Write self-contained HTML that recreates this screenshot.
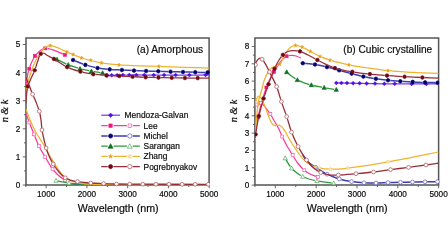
<!DOCTYPE html>
<html><head><meta charset="utf-8"><title>n &amp; k</title>
<style>
html,body{margin:0;padding:0;background:#fff;}
body{width:448px;height:252px;overflow:hidden;}
svg{display:block}
text{font-family:"Liberation Sans",Arial,sans-serif;fill:#0a0a0a;stroke:#0a0a0a;stroke-width:0.18px;}
.tk{font-size:8.2px;}
.lg{font-size:8.4px;}
.ti{font-size:10.15px;}
.xl{font-size:10.7px;}
.yl{font-family:"Liberation Serif","Times New Roman",serif;font-style:italic;font-size:10.2px;stroke:#111;stroke-width:0.25px;}
</style></head><body>
<svg width="448" height="252" viewBox="0 0 448 252">
<defs>
<mask id="k0" maskUnits="userSpaceOnUse" x="0" y="0" width="448" height="252"><rect width="448" height="252" fill="#fff"/><g fill="#000"><circle cx="29.2" cy="68.8" r="2.1"/><circle cx="35.0" cy="56.0" r="2.1"/><circle cx="45.3" cy="48.4" r="2.1"/><circle cx="65.0" cy="54.9" r="2.1"/></g></mask>
<mask id="k1" maskUnits="userSpaceOnUse" x="0" y="0" width="448" height="252"><rect width="448" height="252" fill="#fff"/><g fill="#000"><circle cx="29.3" cy="122.6" r="2.1"/><circle cx="34.0" cy="134.3" r="2.1"/><circle cx="38.9" cy="145.9" r="2.1"/><circle cx="45.3" cy="157.2" r="2.1"/><circle cx="52.6" cy="169.0" r="2.1"/><circle cx="65.0" cy="180.3" r="2.1"/></g></mask>
<mask id="k2" maskUnits="userSpaceOnUse" x="0" y="0" width="448" height="252"><rect width="448" height="252" fill="#fff"/><g fill="#000"><circle cx="73.1" cy="60.0" r="2.35"/><circle cx="85.4" cy="64.9" r="2.35"/><circle cx="97.6" cy="68.1" r="2.35"/><circle cx="109.7" cy="69.4" r="2.35"/><circle cx="121.9" cy="70.0" r="2.35"/><circle cx="134.0" cy="70.6" r="2.35"/><circle cx="146.1" cy="71.0" r="2.35"/><circle cx="158.3" cy="71.3" r="2.35"/><circle cx="170.6" cy="71.7" r="2.35"/><circle cx="183.0" cy="72.0" r="2.35"/><circle cx="195.3" cy="72.2" r="2.35"/><circle cx="207.7" cy="72.4" r="2.35"/></g></mask>
<mask id="k3" maskUnits="userSpaceOnUse" x="0" y="0" width="448" height="252"><rect width="448" height="252" fill="#fff"/><g fill="#000"><circle cx="57.0" cy="59.4" r="2.2"/><circle cx="68.2" cy="64.7" r="2.2"/><circle cx="80.0" cy="68.7" r="2.2"/><circle cx="91.4" cy="71.2" r="2.2"/><circle cx="102.6" cy="72.9" r="2.2"/></g></mask>
<mask id="k4" maskUnits="userSpaceOnUse" x="0" y="0" width="448" height="252"><rect width="448" height="252" fill="#fff"/><g fill="#000"><circle cx="56.0" cy="180.6" r="2.2"/><circle cx="69.0" cy="183.0" r="2.2"/></g></mask>
<mask id="k5" maskUnits="userSpaceOnUse" x="0" y="0" width="448" height="252"><rect width="448" height="252" fill="#fff"/><g fill="#000"><circle cx="50.2" cy="45.6" r="1.7"/><circle cx="66.8" cy="51.9" r="1.7"/><circle cx="73.1" cy="54.5" r="1.7"/><circle cx="81.5" cy="57.9" r="1.7"/><circle cx="90.8" cy="60.3" r="1.7"/><circle cx="101.5" cy="62.9" r="1.7"/><circle cx="119.0" cy="64.9" r="1.7"/><circle cx="158.9" cy="66.4" r="1.7"/></g></mask>
<mask id="k6" maskUnits="userSpaceOnUse" x="0" y="0" width="448" height="252"><rect width="448" height="252" fill="#fff"/><g fill="#000"><circle cx="27.9" cy="86.4" r="2.35"/><circle cx="34.7" cy="70.3" r="2.35"/><circle cx="40.8" cy="53.8" r="2.35"/><circle cx="53.9" cy="58.9" r="2.35"/><circle cx="67.1" cy="67.1" r="2.35"/><circle cx="80.4" cy="71.6" r="2.35"/><circle cx="93.3" cy="74.2" r="2.35"/><circle cx="106.4" cy="75.4" r="2.35"/><circle cx="119.3" cy="76.0" r="2.35"/><circle cx="132.6" cy="76.7" r="2.35"/><circle cx="145.7" cy="77.3" r="2.35"/><circle cx="158.5" cy="77.6" r="2.35"/><circle cx="171.7" cy="77.8" r="2.35"/><circle cx="184.9" cy="78.0" r="2.35"/><circle cx="197.7" cy="78.1" r="2.35"/></g></mask>
<mask id="k7" maskUnits="userSpaceOnUse" x="0" y="0" width="448" height="252"><rect width="448" height="252" fill="#fff"/><g fill="#000"><circle cx="32.6" cy="94.2" r="2.35"/><circle cx="39.3" cy="111.3" r="2.35"/><circle cx="42.0" cy="130.0" r="2.35"/><circle cx="46.1" cy="148.0" r="2.35"/><circle cx="53.2" cy="164.0" r="2.35"/><circle cx="65.2" cy="177.8" r="2.35"/><circle cx="77.5" cy="181.6" r="2.35"/><circle cx="90.8" cy="183.0" r="2.35"/><circle cx="103.6" cy="183.6" r="2.35"/><circle cx="116.5" cy="184.0" r="2.35"/><circle cx="129.7" cy="184.1" r="2.35"/><circle cx="142.8" cy="184.2" r="2.35"/><circle cx="155.9" cy="184.2" r="2.35"/><circle cx="169.0" cy="184.2" r="2.35"/><circle cx="182.1" cy="184.3" r="2.35"/><circle cx="195.2" cy="184.3" r="2.35"/><circle cx="208.3" cy="184.3" r="2.35"/></g></mask>
<mask id="k8" maskUnits="userSpaceOnUse" x="0" y="0" width="448" height="252"><rect width="448" height="252" fill="#fff"/><g fill="#000"><circle cx="258.0" cy="117.4" r="2.1"/><circle cx="266.4" cy="87.4" r="2.1"/><circle cx="273.9" cy="72.0" r="2.1"/><circle cx="286.7" cy="56.3" r="2.1"/></g></mask>
<mask id="k9" maskUnits="userSpaceOnUse" x="0" y="0" width="448" height="252"><rect width="448" height="252" fill="#fff"/><g fill="#000"><circle cx="256.9" cy="104.6" r="2.1"/><circle cx="261.0" cy="103.0" r="2.1"/><circle cx="270.3" cy="114.0" r="2.1"/><circle cx="282.2" cy="136.5" r="2.1"/><circle cx="292.6" cy="155.0" r="2.1"/><circle cx="304.3" cy="170.2" r="2.1"/><circle cx="317.9" cy="176.9" r="2.1"/></g></mask>
<mask id="k10" maskUnits="userSpaceOnUse" x="0" y="0" width="448" height="252"><rect width="448" height="252" fill="#fff"/><g fill="#000"><circle cx="302.8" cy="63.2" r="2.35"/><circle cx="315.0" cy="64.5" r="2.35"/><circle cx="327.0" cy="67.1" r="2.35"/><circle cx="339.2" cy="70.3" r="2.35"/><circle cx="351.6" cy="73.6" r="2.35"/><circle cx="363.4" cy="76.6" r="2.35"/><circle cx="375.9" cy="78.8" r="2.35"/><circle cx="388.0" cy="80.3" r="2.35"/><circle cx="400.3" cy="81.3" r="2.35"/><circle cx="412.7" cy="81.9" r="2.35"/><circle cx="425.1" cy="82.4" r="2.35"/><circle cx="437.5" cy="82.7" r="2.35"/></g></mask>
<mask id="k11" maskUnits="userSpaceOnUse" x="0" y="0" width="448" height="252"><rect width="448" height="252" fill="#fff"/><g fill="#000"><circle cx="315.7" cy="167.3" r="2.35"/><circle cx="327.1" cy="174.2" r="2.35"/><circle cx="339.3" cy="179.0" r="2.35"/><circle cx="351.5" cy="181.6" r="2.35"/><circle cx="364.0" cy="182.8" r="2.35"/><circle cx="376.0" cy="183.0" r="2.35"/><circle cx="388.0" cy="182.6" r="2.35"/><circle cx="400.5" cy="182.3" r="2.35"/><circle cx="412.5" cy="182.0" r="2.35"/><circle cx="425.0" cy="181.8" r="2.35"/><circle cx="437.5" cy="181.7" r="2.35"/></g></mask>
<mask id="k12" maskUnits="userSpaceOnUse" x="0" y="0" width="448" height="252"><rect width="448" height="252" fill="#fff"/><g fill="#000"><circle cx="286.7" cy="72.0" r="2.2"/><circle cx="297.4" cy="79.9" r="2.2"/><circle cx="311.4" cy="85.0" r="2.2"/><circle cx="324.2" cy="87.6" r="2.2"/><circle cx="336.3" cy="89.6" r="2.2"/></g></mask>
<mask id="k13" maskUnits="userSpaceOnUse" x="0" y="0" width="448" height="252"><rect width="448" height="252" fill="#fff"/><g fill="#000"><circle cx="285.2" cy="158.1" r="2.2"/><circle cx="291.6" cy="168.2" r="2.2"/><circle cx="302.7" cy="176.5" r="2.2"/><circle cx="316.9" cy="180.9" r="2.2"/><circle cx="333.7" cy="183.1" r="2.2"/></g></mask>
<mask id="k14" maskUnits="userSpaceOnUse" x="0" y="0" width="448" height="252"><rect width="448" height="252" fill="#fff"/><g fill="#000"><circle cx="279.7" cy="64.2" r="1.7"/><circle cx="295.5" cy="45.4" r="1.7"/><circle cx="302.1" cy="47.1" r="1.7"/><circle cx="310.3" cy="51.4" r="1.7"/><circle cx="319.9" cy="56.4" r="1.7"/><circle cx="330.0" cy="60.2" r="1.7"/><circle cx="348.9" cy="64.9" r="1.7"/><circle cx="388.0" cy="70.7" r="1.7"/></g></mask>
<mask id="k15" maskUnits="userSpaceOnUse" x="0" y="0" width="448" height="252"><rect width="448" height="252" fill="#fff"/><g fill="#000"><circle cx="319.5" cy="168.1" r="1.7"/><circle cx="330.4" cy="169.2" r="1.7"/><circle cx="348.2" cy="168.1" r="1.7"/><circle cx="388.0" cy="161.8" r="1.7"/></g></mask>
<mask id="k16" maskUnits="userSpaceOnUse" x="0" y="0" width="448" height="252"><rect width="448" height="252" fill="#fff"/><g fill="#000"><circle cx="255.6" cy="134.4" r="2.35"/><circle cx="258.9" cy="116.1" r="2.35"/><circle cx="263.6" cy="98.5" r="2.35"/><circle cx="268.5" cy="84.2" r="2.35"/><circle cx="274.5" cy="68.8" r="2.35"/><circle cx="282.9" cy="54.9" r="2.35"/><circle cx="300.0" cy="51.4" r="2.35"/><circle cx="317.4" cy="60.0" r="2.35"/><circle cx="334.9" cy="68.1" r="2.35"/><circle cx="352.3" cy="71.8" r="2.35"/><circle cx="369.9" cy="74.1" r="2.35"/><circle cx="387.0" cy="75.6" r="2.35"/><circle cx="404.6" cy="76.7" r="2.35"/><circle cx="422.4" cy="77.5" r="2.35"/></g></mask>
<mask id="k17" maskUnits="userSpaceOnUse" x="0" y="0" width="448" height="252"><rect width="448" height="252" fill="#fff"/><g fill="#000"><circle cx="255.4" cy="64.8" r="2.35"/><circle cx="262.1" cy="59.3" r="2.35"/><circle cx="269.5" cy="72.0" r="2.35"/><circle cx="276.6" cy="86.6" r="2.35"/><circle cx="281.4" cy="101.6" r="2.35"/><circle cx="286.7" cy="116.6" r="2.35"/><circle cx="291.6" cy="132.2" r="2.35"/><circle cx="298.1" cy="146.6" r="2.35"/><circle cx="306.5" cy="160.0" r="2.35"/><circle cx="320.8" cy="172.6" r="2.35"/><circle cx="338.3" cy="175.0" r="2.35"/><circle cx="356.0" cy="173.7" r="2.35"/><circle cx="373.5" cy="172.0" r="2.35"/><circle cx="390.5" cy="169.6" r="2.35"/><circle cx="408.5" cy="167.4" r="2.35"/><circle cx="426.0" cy="165.0" r="2.35"/></g></mask>
<clipPath id="clipL"><rect x="26" y="37.9" width="183.8" height="149"/></clipPath>
<clipPath id="clipR"><rect x="254.9" y="37.9" width="184.4" height="149"/></clipPath>
</defs>
<rect width="448" height="252" fill="#fff"/>
<path d="M26.0,185.0 L26.0,37.9 L209.1,37.9 L209.1,185.0 Z" fill="none" stroke="#555" stroke-width="1.5"/>
<path d="M25.80,185.0 v2.0" stroke="#555" stroke-width="0.9"/>
<path d="M46.17,185.0 v3.2" stroke="#555" stroke-width="0.9"/>
<text x="46.17" y="196.9" text-anchor="middle" class="tk">1000</text>
<path d="M66.55,185.0 v2.0" stroke="#555" stroke-width="0.9"/>
<path d="M86.92,185.0 v3.2" stroke="#555" stroke-width="0.9"/>
<text x="86.92" y="196.9" text-anchor="middle" class="tk">2000</text>
<path d="M107.30,185.0 v2.0" stroke="#555" stroke-width="0.9"/>
<path d="M127.67,185.0 v3.2" stroke="#555" stroke-width="0.9"/>
<text x="127.67" y="196.9" text-anchor="middle" class="tk">3000</text>
<path d="M148.05,185.0 v2.0" stroke="#555" stroke-width="0.9"/>
<path d="M168.43,185.0 v3.2" stroke="#555" stroke-width="0.9"/>
<text x="168.43" y="196.9" text-anchor="middle" class="tk">4000</text>
<path d="M188.80,185.0 v2.0" stroke="#555" stroke-width="0.9"/>
<path d="M209.18,185.0 v3.2" stroke="#555" stroke-width="0.9"/>
<text x="209.18" y="196.9" text-anchor="middle" class="tk">5000</text>
<path d="M26.0,185.00 h-3.2" stroke="#555" stroke-width="0.9"/>
<text x="20.40" y="187.95" text-anchor="end" class="tk">0</text>
<path d="M26.0,170.95 h-2.0" stroke="#555" stroke-width="0.9"/>
<path d="M26.0,156.90 h-3.2" stroke="#555" stroke-width="0.9"/>
<text x="20.40" y="159.85" text-anchor="end" class="tk">1</text>
<path d="M26.0,142.85 h-2.0" stroke="#555" stroke-width="0.9"/>
<path d="M26.0,128.80 h-3.2" stroke="#555" stroke-width="0.9"/>
<text x="20.40" y="131.75" text-anchor="end" class="tk">2</text>
<path d="M26.0,114.75 h-2.0" stroke="#555" stroke-width="0.9"/>
<path d="M26.0,100.70 h-3.2" stroke="#555" stroke-width="0.9"/>
<text x="20.40" y="103.65" text-anchor="end" class="tk">3</text>
<path d="M26.0,86.65 h-2.0" stroke="#555" stroke-width="0.9"/>
<path d="M26.0,72.60 h-3.2" stroke="#555" stroke-width="0.9"/>
<text x="20.40" y="75.55" text-anchor="end" class="tk">4</text>
<path d="M26.0,58.55 h-2.0" stroke="#555" stroke-width="0.9"/>
<path d="M26.0,44.50 h-3.2" stroke="#555" stroke-width="0.9"/>
<text x="20.40" y="47.45" text-anchor="end" class="tk">5</text>
<path d="M254.9,185.1 L254.9,37.9 L438.6,37.9 L438.6,185.1 Z" fill="none" stroke="#555" stroke-width="1.5"/>
<path d="M254.90,185.1 v2.0" stroke="#555" stroke-width="0.9"/>
<path d="M275.31,185.1 v3.2" stroke="#555" stroke-width="0.9"/>
<text x="275.31" y="196.9" text-anchor="middle" class="tk">1000</text>
<path d="M295.73,185.1 v2.0" stroke="#555" stroke-width="0.9"/>
<path d="M316.14,185.1 v3.2" stroke="#555" stroke-width="0.9"/>
<text x="316.14" y="196.9" text-anchor="middle" class="tk">2000</text>
<path d="M336.56,185.1 v2.0" stroke="#555" stroke-width="0.9"/>
<path d="M356.98,185.1 v3.2" stroke="#555" stroke-width="0.9"/>
<text x="356.98" y="196.9" text-anchor="middle" class="tk">3000</text>
<path d="M377.39,185.1 v2.0" stroke="#555" stroke-width="0.9"/>
<path d="M397.81,185.1 v3.2" stroke="#555" stroke-width="0.9"/>
<text x="397.81" y="196.9" text-anchor="middle" class="tk">4000</text>
<path d="M418.22,185.1 v2.0" stroke="#555" stroke-width="0.9"/>
<path d="M438.63,185.1 v3.2" stroke="#555" stroke-width="0.9"/>
<text x="438.63" y="196.9" text-anchor="middle" class="tk">5000</text>
<path d="M254.9,185.10 h-3.2" stroke="#555" stroke-width="0.9"/>
<text x="249.30" y="188.05" text-anchor="end" class="tk">0</text>
<path d="M254.9,176.44 h-2.0" stroke="#555" stroke-width="0.9"/>
<path d="M254.9,167.77 h-3.2" stroke="#555" stroke-width="0.9"/>
<text x="249.30" y="170.72" text-anchor="end" class="tk">1</text>
<path d="M254.9,159.10 h-2.0" stroke="#555" stroke-width="0.9"/>
<path d="M254.9,150.44 h-3.2" stroke="#555" stroke-width="0.9"/>
<text x="249.30" y="153.39" text-anchor="end" class="tk">2</text>
<path d="M254.9,141.78 h-2.0" stroke="#555" stroke-width="0.9"/>
<path d="M254.9,133.11 h-3.2" stroke="#555" stroke-width="0.9"/>
<text x="249.30" y="136.06" text-anchor="end" class="tk">3</text>
<path d="M254.9,124.44 h-2.0" stroke="#555" stroke-width="0.9"/>
<path d="M254.9,115.78 h-3.2" stroke="#555" stroke-width="0.9"/>
<text x="249.30" y="118.73" text-anchor="end" class="tk">4</text>
<path d="M254.9,107.12 h-2.0" stroke="#555" stroke-width="0.9"/>
<path d="M254.9,98.45 h-3.2" stroke="#555" stroke-width="0.9"/>
<text x="249.30" y="101.40" text-anchor="end" class="tk">5</text>
<path d="M254.9,89.78 h-2.0" stroke="#555" stroke-width="0.9"/>
<path d="M254.9,81.12 h-3.2" stroke="#555" stroke-width="0.9"/>
<text x="249.30" y="84.07" text-anchor="end" class="tk">6</text>
<path d="M254.9,72.46 h-2.0" stroke="#555" stroke-width="0.9"/>
<path d="M254.9,63.79 h-3.2" stroke="#555" stroke-width="0.9"/>
<text x="249.30" y="66.74" text-anchor="end" class="tk">7</text>
<path d="M254.9,55.12 h-2.0" stroke="#555" stroke-width="0.9"/>
<path d="M254.9,46.46 h-3.2" stroke="#555" stroke-width="0.9"/>
<text x="249.30" y="49.41" text-anchor="end" class="tk">8</text>
<g clip-path="url(#clipL)">
<path d="M107.1,75.4 C114.7,75.2 122.4,75.1 130.0,75.0 C140.0,74.9 150.0,75.1 160.0,75.1 C170.0,75.1 180.0,75.2 190.0,75.1 C196.3,75.1 202.7,75.0 209.0,74.9" fill="none" stroke="#7a3cf0" stroke-width="1.25" stroke-linejoin="round"/>
<path d="M107.1,73.4 L109.1,75.4 L107.1,77.4 L105.1,75.4Z" fill="#5210e0" stroke="#5210e0" stroke-width="0.4"/>
<path d="M111.7,73.3 L113.7,75.3 L111.7,77.3 L109.7,75.3Z" fill="#5210e0" stroke="#5210e0" stroke-width="0.4"/>
<path d="M117.1,73.2 L119.1,75.2 L117.1,77.2 L115.1,75.2Z" fill="#5210e0" stroke="#5210e0" stroke-width="0.4"/>
<path d="M122.9,73.1 L124.9,75.1 L122.9,77.1 L120.9,75.1Z" fill="#5210e0" stroke="#5210e0" stroke-width="0.4"/>
<path d="M129.3,73.0 L131.3,75.0 L129.3,77.0 L127.3,75.0Z" fill="#5210e0" stroke="#5210e0" stroke-width="0.4"/>
<path d="M136.4,73.0 L138.4,75.0 L136.4,77.0 L134.4,75.0Z" fill="#5210e0" stroke="#5210e0" stroke-width="0.4"/>
<path d="M144.3,73.0 L146.3,75.0 L144.3,77.0 L142.3,75.0Z" fill="#5210e0" stroke="#5210e0" stroke-width="0.4"/>
<path d="M153.7,73.1 L155.7,75.1 L153.7,77.1 L151.7,75.1Z" fill="#5210e0" stroke="#5210e0" stroke-width="0.4"/>
<path d="M164.1,73.1 L166.1,75.1 L164.1,77.1 L162.1,75.1Z" fill="#5210e0" stroke="#5210e0" stroke-width="0.4"/>
<path d="M175.6,73.1 L177.6,75.1 L175.6,77.1 L173.6,75.1Z" fill="#5210e0" stroke="#5210e0" stroke-width="0.4"/>
<path d="M189.4,73.1 L191.4,75.1 L189.4,77.1 L187.4,75.1Z" fill="#5210e0" stroke="#5210e0" stroke-width="0.4"/>
<path d="M205.6,72.9 L207.6,74.9 L205.6,76.9 L203.6,74.9Z" fill="#5210e0" stroke="#5210e0" stroke-width="0.4"/>
<path d="M26.0,85.0 C26.8,79.5 27.5,74.0 29.2,68.8 C30.0,66.3 30.9,63.9 32.0,61.5 C32.9,59.6 33.8,57.7 35.0,56.0 C36.4,54.1 38.0,52.1 40.0,50.8 C41.6,49.7 43.5,48.7 45.3,48.4 C47.4,48.1 49.8,49.0 52.0,49.6 C54.0,50.2 56.0,51.0 58.0,51.8 C60.4,52.7 62.7,53.8 65.0,54.9" fill="none" stroke="#ff3897" stroke-width="1.25" stroke-linejoin="round" mask="url(#k0)"/>
<rect x="27.8" y="67.3" width="2.9" height="2.9" fill="#f01878" stroke="#f01878" stroke-width="0.7"/>
<rect x="33.5" y="54.5" width="2.9" height="2.9" fill="#f01878" stroke="#f01878" stroke-width="0.7"/>
<rect x="43.8" y="46.9" width="2.9" height="2.9" fill="#f01878" stroke="#f01878" stroke-width="0.7"/>
<rect x="63.5" y="53.4" width="2.9" height="2.9" fill="#f01878" stroke="#f01878" stroke-width="0.7"/>
<path d="M26.0,113.3 C27.1,116.4 28.1,119.5 29.3,122.6 C30.8,126.5 32.4,130.4 34.0,134.3 C35.6,138.2 37.1,142.1 38.9,145.9 C40.8,149.8 43.1,153.5 45.3,157.2 C47.7,161.2 49.7,165.4 52.6,169.0 C54.3,171.1 56.0,173.2 58.0,175.0 C60.1,177.0 62.6,178.6 65.0,180.3" fill="none" stroke="#ff3897" stroke-width="1.25" stroke-linejoin="round" mask="url(#k1)"/>
<rect x="27.9" y="121.1" width="2.9" height="2.9" fill="#fff" stroke="#ff3897" stroke-width="0.6"/>
<rect x="32.5" y="132.9" width="2.9" height="2.9" fill="#fff" stroke="#ff3897" stroke-width="0.6"/>
<rect x="37.4" y="144.5" width="2.9" height="2.9" fill="#fff" stroke="#ff3897" stroke-width="0.6"/>
<rect x="43.8" y="155.8" width="2.9" height="2.9" fill="#fff" stroke="#ff3897" stroke-width="0.6"/>
<rect x="51.1" y="167.6" width="2.9" height="2.9" fill="#fff" stroke="#ff3897" stroke-width="0.6"/>
<rect x="63.5" y="178.9" width="2.9" height="2.9" fill="#fff" stroke="#ff3897" stroke-width="0.6"/>
<path d="M73.1,60.0 C77.2,61.8 81.2,63.5 85.4,64.9 C89.4,66.2 93.5,67.3 97.6,68.1 C101.6,68.8 105.7,69.1 109.7,69.4 C113.8,69.7 117.8,69.8 121.9,70.0 C125.9,70.2 130.0,70.4 134.0,70.6 C138.0,70.8 142.1,70.9 146.1,71.0 C150.2,71.1 154.2,71.2 158.3,71.3 C162.4,71.4 166.5,71.6 170.6,71.7 C174.7,71.8 178.9,71.9 183.0,72.0 C187.1,72.1 191.2,72.1 195.3,72.2 C199.4,72.3 203.6,72.4 207.7,72.4 C208.1,72.4 208.6,72.4 209.0,72.4" fill="none" stroke="#3d3db2" stroke-width="1.5" stroke-linejoin="round" mask="url(#k2)"/>
<circle cx="73.1" cy="60.0" r="1.80" fill="#00006e" stroke="#00006e" stroke-width="0.7"/>
<circle cx="85.4" cy="64.9" r="1.80" fill="#00006e" stroke="#00006e" stroke-width="0.7"/>
<circle cx="97.6" cy="68.1" r="1.80" fill="#00006e" stroke="#00006e" stroke-width="0.7"/>
<circle cx="109.7" cy="69.4" r="1.80" fill="#00006e" stroke="#00006e" stroke-width="0.7"/>
<circle cx="121.9" cy="70.0" r="1.80" fill="#00006e" stroke="#00006e" stroke-width="0.7"/>
<circle cx="134.0" cy="70.6" r="1.80" fill="#00006e" stroke="#00006e" stroke-width="0.7"/>
<circle cx="146.1" cy="71.0" r="1.80" fill="#00006e" stroke="#00006e" stroke-width="0.7"/>
<circle cx="158.3" cy="71.3" r="1.80" fill="#00006e" stroke="#00006e" stroke-width="0.7"/>
<circle cx="170.6" cy="71.7" r="1.80" fill="#00006e" stroke="#00006e" stroke-width="0.7"/>
<circle cx="183.0" cy="72.0" r="1.80" fill="#00006e" stroke="#00006e" stroke-width="0.7"/>
<circle cx="195.3" cy="72.2" r="1.80" fill="#00006e" stroke="#00006e" stroke-width="0.7"/>
<circle cx="207.7" cy="72.4" r="1.80" fill="#00006e" stroke="#00006e" stroke-width="0.7"/>
<path d="M73.1,184.0 C82.1,184.2 91.0,184.4 100.0,184.6 C136.3,185.3 172.7,185.0 209.0,184.8" fill="none" stroke="#3d3db2" stroke-width="1.5" stroke-linejoin="round"/>
<path d="M57.0,59.4 C60.7,61.3 64.4,63.2 68.2,64.7 C72.0,66.3 76.0,67.6 80.0,68.7 C83.7,69.7 87.6,70.5 91.4,71.2 C95.1,71.9 98.9,72.4 102.6,72.9" fill="none" stroke="#2f9a3c" stroke-width="1.3" stroke-linejoin="round" mask="url(#k3)"/>
<path d="M57.0,57.2 L59.1,61.1 L54.9,61.1Z" fill="#0f6e22" stroke="#0f6e22" stroke-width="0.7"/>
<path d="M68.2,62.6 L70.4,66.4 L66.0,66.4Z" fill="#0f6e22" stroke="#0f6e22" stroke-width="0.7"/>
<path d="M80.0,66.5 L82.2,70.4 L77.8,70.4Z" fill="#0f6e22" stroke="#0f6e22" stroke-width="0.7"/>
<path d="M91.4,69.0 L93.6,72.9 L89.2,72.9Z" fill="#0f6e22" stroke="#0f6e22" stroke-width="0.7"/>
<path d="M102.6,70.8 L104.8,74.6 L100.4,74.6Z" fill="#0f6e22" stroke="#0f6e22" stroke-width="0.7"/>
<path d="M56.0,180.6 C58.0,181.0 60.0,181.4 62.0,181.8 C64.3,182.2 66.7,182.6 69.0,183.0 C71.3,183.3 73.7,183.7 76.0,183.9 C79.0,184.2 82.0,184.3 85.0,184.4 C90.9,184.6 96.7,184.6 102.6,184.6" fill="none" stroke="#2f9a3c" stroke-width="1.3" stroke-linejoin="round" mask="url(#k4)"/>
<path d="M56.0,178.4 L58.1,182.3 L53.9,182.3Z" fill="#fff" stroke="#2f9a3c" stroke-width="0.6"/>
<path d="M69.0,180.8 L71.2,184.7 L66.8,184.7Z" fill="#fff" stroke="#2f9a3c" stroke-width="0.6"/>
<path d="M26.0,91.0 C26.9,86.8 27.8,82.6 29.0,78.5 C30.0,75.0 31.2,71.4 32.5,68.0 C33.6,65.3 34.6,62.6 36.0,60.0 C37.2,57.8 38.5,55.6 40.0,53.5 C41.2,51.8 42.4,50.0 44.0,48.6 C45.1,47.7 46.2,46.7 47.5,46.2 C48.3,45.9 49.3,45.6 50.2,45.6 C51.5,45.5 52.8,46.0 54.0,46.3 C56.1,46.9 58.0,47.9 60.0,48.8 C62.3,49.8 64.5,50.9 66.8,51.9 C71.7,54.1 76.6,56.3 81.7,58.0 C88.0,60.1 94.5,61.6 101.0,62.8 C106.9,63.9 113.0,64.4 119.0,64.9 C126.0,65.5 133.0,65.5 140.0,65.8 C146.3,66.0 152.6,66.2 158.9,66.4 C167.6,66.7 176.3,67.0 185.0,67.3 C193.0,67.6 201.0,67.8 209.0,68.1" fill="none" stroke="#edb430" stroke-width="1.25" stroke-linejoin="round" mask="url(#k5)"/>
<path d="M50.2,43.7 L50.7,45.0 L52.0,45.0 L51.0,45.8 L51.3,47.1 L50.2,46.4 L49.1,47.1 L49.4,45.8 L48.4,45.0 L49.7,45.0Z" fill="#e29c18" stroke="#e29c18" stroke-width="0.5"/>
<path d="M66.8,50.0 L67.3,51.3 L68.6,51.3 L67.6,52.1 L67.9,53.4 L66.8,52.7 L65.7,53.4 L66.0,52.1 L65.0,51.3 L66.3,51.3Z" fill="#e29c18" stroke="#e29c18" stroke-width="0.5"/>
<path d="M73.1,52.6 L73.6,53.8 L74.9,53.9 L73.9,54.7 L74.2,56.0 L73.1,55.3 L72.0,56.0 L72.3,54.7 L71.3,53.9 L72.6,53.8Z" fill="#e29c18" stroke="#e29c18" stroke-width="0.5"/>
<path d="M81.5,56.0 L82.0,57.3 L83.3,57.3 L82.3,58.2 L82.6,59.5 L81.5,58.7 L80.4,59.5 L80.7,58.2 L79.7,57.3 L81.0,57.3Z" fill="#e29c18" stroke="#e29c18" stroke-width="0.5"/>
<path d="M90.8,58.4 L91.3,59.6 L92.6,59.7 L91.6,60.5 L91.9,61.8 L90.8,61.1 L89.7,61.8 L90.0,60.5 L89.0,59.7 L90.3,59.6Z" fill="#e29c18" stroke="#e29c18" stroke-width="0.5"/>
<path d="M101.5,61.0 L102.0,62.2 L103.3,62.3 L102.3,63.1 L102.6,64.4 L101.5,63.7 L100.4,64.4 L100.7,63.1 L99.7,62.3 L101.0,62.2Z" fill="#e29c18" stroke="#e29c18" stroke-width="0.5"/>
<path d="M119.0,63.0 L119.5,64.3 L120.8,64.3 L119.8,65.1 L120.1,66.4 L119.0,65.7 L117.9,66.4 L118.2,65.1 L117.2,64.3 L118.5,64.3Z" fill="#e29c18" stroke="#e29c18" stroke-width="0.5"/>
<path d="M158.9,64.5 L159.4,65.8 L160.7,65.8 L159.7,66.6 L160.0,67.9 L158.9,67.2 L157.8,67.9 L158.1,66.6 L157.1,65.8 L158.4,65.8Z" fill="#e29c18" stroke="#e29c18" stroke-width="0.5"/>
<path d="M26.0,109.0 C27.6,113.6 29.1,118.2 31.1,122.6 C32.8,126.5 34.7,130.3 36.9,134.0 C38.3,136.4 39.9,138.6 41.4,141.0 C44.4,145.9 47.1,151.0 50.0,156.0 C52.8,160.7 55.3,165.6 58.6,170.0 C60.3,172.2 61.8,174.7 63.9,176.5 C65.7,178.1 67.8,179.4 70.0,180.5 C72.5,181.7 75.3,182.4 78.0,183.0 C81.9,183.9 86.0,183.9 90.0,184.2 C96.6,184.7 103.3,184.5 110.0,184.6 C143.0,185.2 176.0,185.0 209.0,184.8" fill="none" stroke="#edb430" stroke-width="1.25" stroke-linejoin="round"/>
<path d="M25.8,104.0 C26.0,100.7 26.2,97.3 26.6,94.0 C26.9,91.5 27.2,88.9 27.9,86.4 C28.6,83.7 29.9,81.1 31.0,78.5 C32.2,75.7 33.6,73.1 34.7,70.3 C36.0,67.1 36.8,63.7 38.0,60.5 C38.9,58.2 38.8,54.8 40.8,53.8 C41.5,53.4 42.6,53.1 43.5,53.2 C44.8,53.3 45.8,54.5 47.0,55.2 C49.3,56.5 51.6,57.6 53.9,58.9 C58.4,61.4 62.4,64.9 67.1,67.1 C71.3,69.1 75.9,70.4 80.4,71.6 C84.6,72.7 89.0,73.6 93.3,74.2 C97.6,74.8 102.0,75.1 106.4,75.4 C110.7,75.7 115.0,75.8 119.3,76.0 C123.7,76.2 128.2,76.5 132.6,76.7 C137.0,76.9 141.3,77.1 145.7,77.3 C150.0,77.4 154.2,77.5 158.5,77.6 C162.9,77.7 167.3,77.7 171.7,77.8 C176.1,77.9 180.5,77.9 184.9,78.0 C189.2,78.0 193.4,78.1 197.7,78.1 C201.5,78.1 205.2,78.2 209.0,78.2" fill="none" stroke="#982e38" stroke-width="1.3" stroke-linejoin="round" mask="url(#k6)"/>
<circle cx="27.9" cy="86.4" r="1.80" fill="#700814" stroke="#700814" stroke-width="0.7"/>
<circle cx="34.7" cy="70.3" r="1.80" fill="#700814" stroke="#700814" stroke-width="0.7"/>
<circle cx="40.8" cy="53.8" r="1.80" fill="#700814" stroke="#700814" stroke-width="0.7"/>
<circle cx="53.9" cy="58.9" r="1.80" fill="#700814" stroke="#700814" stroke-width="0.7"/>
<circle cx="67.1" cy="67.1" r="1.80" fill="#700814" stroke="#700814" stroke-width="0.7"/>
<circle cx="80.4" cy="71.6" r="1.80" fill="#700814" stroke="#700814" stroke-width="0.7"/>
<circle cx="93.3" cy="74.2" r="1.80" fill="#700814" stroke="#700814" stroke-width="0.7"/>
<circle cx="106.4" cy="75.4" r="1.80" fill="#700814" stroke="#700814" stroke-width="0.7"/>
<circle cx="119.3" cy="76.0" r="1.80" fill="#700814" stroke="#700814" stroke-width="0.7"/>
<circle cx="132.6" cy="76.7" r="1.80" fill="#700814" stroke="#700814" stroke-width="0.7"/>
<circle cx="145.7" cy="77.3" r="1.80" fill="#700814" stroke="#700814" stroke-width="0.7"/>
<circle cx="158.5" cy="77.6" r="1.80" fill="#700814" stroke="#700814" stroke-width="0.7"/>
<circle cx="171.7" cy="77.8" r="1.80" fill="#700814" stroke="#700814" stroke-width="0.7"/>
<circle cx="184.9" cy="78.0" r="1.80" fill="#700814" stroke="#700814" stroke-width="0.7"/>
<circle cx="197.7" cy="78.1" r="1.80" fill="#700814" stroke="#700814" stroke-width="0.7"/>
<path d="M26.0,77.5 C27.0,80.0 28.0,82.5 29.0,85.0 C30.2,88.1 31.3,91.2 32.6,94.2 C33.7,96.8 35.0,99.4 36.0,102.0 C37.2,105.1 38.4,108.1 39.3,111.3 C40.1,114.1 40.6,117.1 41.0,120.0 C41.5,123.3 41.5,126.7 42.0,130.0 C42.5,133.2 43.3,136.3 44.0,139.5 C44.7,142.3 45.2,145.2 46.1,148.0 C47.0,151.1 48.2,154.1 49.5,157.0 C50.6,159.4 51.8,161.8 53.2,164.0 C54.9,166.8 56.8,169.6 59.0,172.0 C60.9,174.1 62.8,176.3 65.2,177.8 C67.0,178.9 69.0,179.7 71.0,180.3 C73.1,181.0 75.3,181.2 77.5,181.6 C81.9,182.3 86.4,182.7 90.8,183.0 C95.1,183.3 99.3,183.4 103.6,183.6 C107.9,183.8 112.2,183.9 116.5,184.0 C121.0,184.1 125.5,184.1 130.0,184.1 C156.3,184.3 182.7,184.3 209.0,184.3" fill="none" stroke="#982e38" stroke-width="1.3" stroke-linejoin="round" mask="url(#k7)"/>
<circle cx="32.6" cy="94.2" r="1.90" fill="#fff" stroke="#982e38" stroke-width="0.6"/>
<circle cx="39.3" cy="111.3" r="1.90" fill="#fff" stroke="#982e38" stroke-width="0.6"/>
<circle cx="42.0" cy="130.0" r="1.90" fill="#fff" stroke="#982e38" stroke-width="0.6"/>
<circle cx="46.1" cy="148.0" r="1.90" fill="#fff" stroke="#982e38" stroke-width="0.6"/>
<circle cx="53.2" cy="164.0" r="1.90" fill="#fff" stroke="#982e38" stroke-width="0.6"/>
<circle cx="65.2" cy="177.8" r="1.90" fill="#fff" stroke="#982e38" stroke-width="0.6"/>
<circle cx="77.5" cy="181.6" r="1.90" fill="#fff" stroke="#982e38" stroke-width="0.6"/>
<circle cx="90.8" cy="183.0" r="1.90" fill="#fff" stroke="#982e38" stroke-width="0.6"/>
<circle cx="103.6" cy="183.6" r="1.90" fill="#fff" stroke="#982e38" stroke-width="0.6"/>
<circle cx="116.5" cy="184.0" r="1.90" fill="#fff" stroke="#982e38" stroke-width="0.6"/>
<circle cx="129.7" cy="184.1" r="1.90" fill="#fff" stroke="#982e38" stroke-width="0.6"/>
<circle cx="142.8" cy="184.2" r="1.90" fill="#fff" stroke="#982e38" stroke-width="0.6"/>
<circle cx="155.9" cy="184.2" r="1.90" fill="#fff" stroke="#982e38" stroke-width="0.6"/>
<circle cx="169.0" cy="184.2" r="1.90" fill="#fff" stroke="#982e38" stroke-width="0.6"/>
<circle cx="182.1" cy="184.3" r="1.90" fill="#fff" stroke="#982e38" stroke-width="0.6"/>
<circle cx="195.2" cy="184.3" r="1.90" fill="#fff" stroke="#982e38" stroke-width="0.6"/>
<circle cx="208.3" cy="184.3" r="1.90" fill="#fff" stroke="#982e38" stroke-width="0.6"/>
</g>
<g clip-path="url(#clipR)">
<path d="M336.3,82.9 C344.2,83.0 352.1,83.2 360.0,83.3 C368.1,83.5 376.2,83.7 384.3,83.8 C393.4,83.9 402.6,83.9 411.7,83.9 C420.6,83.9 429.6,83.9 438.5,83.9" fill="none" stroke="#7a3cf0" stroke-width="1.25" stroke-linejoin="round"/>
<path d="M336.3,80.9 L338.3,82.9 L336.3,84.9 L334.3,82.9Z" fill="#5210e0" stroke="#5210e0" stroke-width="0.4"/>
<path d="M341.4,81.0 L343.4,83.0 L341.4,85.0 L339.4,83.0Z" fill="#5210e0" stroke="#5210e0" stroke-width="0.4"/>
<path d="M347.0,81.1 L349.0,83.1 L347.0,85.1 L345.0,83.1Z" fill="#5210e0" stroke="#5210e0" stroke-width="0.4"/>
<path d="M353.1,81.2 L355.1,83.2 L353.1,85.2 L351.1,83.2Z" fill="#5210e0" stroke="#5210e0" stroke-width="0.4"/>
<path d="M359.6,81.3 L361.6,83.3 L359.6,85.3 L357.6,83.3Z" fill="#5210e0" stroke="#5210e0" stroke-width="0.4"/>
<path d="M366.7,81.4 L368.7,83.4 L366.7,85.4 L364.7,83.4Z" fill="#5210e0" stroke="#5210e0" stroke-width="0.4"/>
<path d="M375.0,81.6 L377.0,83.6 L375.0,85.6 L373.0,83.6Z" fill="#5210e0" stroke="#5210e0" stroke-width="0.4"/>
<path d="M384.3,81.8 L386.3,83.8 L384.3,85.8 L382.3,83.8Z" fill="#5210e0" stroke="#5210e0" stroke-width="0.4"/>
<path d="M394.7,81.8 L396.7,83.8 L394.7,85.8 L392.7,83.8Z" fill="#5210e0" stroke="#5210e0" stroke-width="0.4"/>
<path d="M411.7,81.9 L413.7,83.9 L411.7,85.9 L409.7,83.9Z" fill="#5210e0" stroke="#5210e0" stroke-width="0.4"/>
<path d="M426.4,81.9 L428.4,83.9 L426.4,85.9 L424.4,83.9Z" fill="#5210e0" stroke="#5210e0" stroke-width="0.4"/>
<path d="M257.2,121.5 C257.5,120.1 257.7,118.8 258.0,117.4 C259.1,112.0 260.5,106.8 262.0,101.5 C263.3,96.8 264.6,92.0 266.4,87.4 C267.5,84.6 268.6,81.7 270.0,79.0 C271.2,76.6 272.6,74.3 273.9,72.0 C275.7,69.0 277.3,65.8 279.5,63.0 C280.7,61.4 282.0,59.8 283.5,58.5 C284.5,57.7 285.5,56.8 286.7,56.3 C287.6,55.9 288.5,55.7 289.5,55.5 C290.4,55.3 291.4,55.3 292.4,55.3 C293.6,55.4 294.8,55.7 296.0,56.0 C297.7,56.5 299.4,57.2 301.0,58.0" fill="none" stroke="#ff3897" stroke-width="1.25" stroke-linejoin="round" mask="url(#k8)"/>
<rect x="256.6" y="116.0" width="2.9" height="2.9" fill="#f01878" stroke="#f01878" stroke-width="0.7"/>
<rect x="264.9" y="86.0" width="2.9" height="2.9" fill="#f01878" stroke="#f01878" stroke-width="0.7"/>
<rect x="272.4" y="70.5" width="2.9" height="2.9" fill="#f01878" stroke="#f01878" stroke-width="0.7"/>
<rect x="285.2" y="54.8" width="2.9" height="2.9" fill="#f01878" stroke="#f01878" stroke-width="0.7"/>
<path d="M255.2,107.0 C255.7,106.2 256.2,105.3 256.9,104.6 C257.6,103.8 258.6,102.7 259.5,102.6 C260.6,102.4 262.0,103.7 263.0,104.5 C264.4,105.6 265.4,107.3 266.5,108.8 C267.8,110.5 269.1,112.2 270.3,114.0 C271.7,116.1 272.8,118.3 274.0,120.5 C275.4,122.8 276.8,125.1 278.1,127.5 C279.6,130.4 280.8,133.5 282.2,136.5 C283.7,139.7 285.3,142.9 287.0,146.0 C288.7,149.1 290.7,152.0 292.6,155.0 C294.4,157.8 295.9,160.9 298.0,163.5 C299.9,165.9 301.9,168.3 304.3,170.2 C306.3,171.9 308.6,173.4 311.0,174.5 C313.2,175.5 315.5,176.2 317.9,176.9" fill="none" stroke="#ff3897" stroke-width="1.25" stroke-linejoin="round" mask="url(#k9)"/>
<rect x="255.4" y="103.1" width="2.9" height="2.9" fill="#fff" stroke="#ff3897" stroke-width="0.6"/>
<rect x="259.6" y="101.5" width="2.9" height="2.9" fill="#fff" stroke="#ff3897" stroke-width="0.6"/>
<rect x="268.9" y="112.5" width="2.9" height="2.9" fill="#fff" stroke="#ff3897" stroke-width="0.6"/>
<rect x="280.8" y="135.1" width="2.9" height="2.9" fill="#fff" stroke="#ff3897" stroke-width="0.6"/>
<rect x="291.2" y="153.6" width="2.9" height="2.9" fill="#fff" stroke="#ff3897" stroke-width="0.6"/>
<rect x="302.9" y="168.8" width="2.9" height="2.9" fill="#fff" stroke="#ff3897" stroke-width="0.6"/>
<rect x="316.4" y="175.5" width="2.9" height="2.9" fill="#fff" stroke="#ff3897" stroke-width="0.6"/>
<path d="M302.8,63.2 C306.9,63.5 311.0,63.9 315.0,64.5 C319.0,65.2 323.0,66.1 327.0,67.1 C331.1,68.1 335.1,69.2 339.2,70.3 C343.3,71.4 347.5,72.5 351.6,73.6 C355.5,74.6 359.4,75.7 363.4,76.6 C367.5,77.5 371.7,78.2 375.9,78.8 C379.9,79.4 384.0,79.9 388.0,80.3 C392.1,80.7 396.2,81.0 400.3,81.3 C404.4,81.6 408.6,81.7 412.7,81.9 C416.8,82.1 421.0,82.3 425.1,82.4 C429.2,82.5 433.4,82.6 437.5,82.7" fill="none" stroke="#3d3db2" stroke-width="1.5" stroke-linejoin="round" mask="url(#k10)"/>
<circle cx="302.8" cy="63.2" r="1.80" fill="#00006e" stroke="#00006e" stroke-width="0.7"/>
<circle cx="315.0" cy="64.5" r="1.80" fill="#00006e" stroke="#00006e" stroke-width="0.7"/>
<circle cx="327.0" cy="67.1" r="1.80" fill="#00006e" stroke="#00006e" stroke-width="0.7"/>
<circle cx="339.2" cy="70.3" r="1.80" fill="#00006e" stroke="#00006e" stroke-width="0.7"/>
<circle cx="351.6" cy="73.6" r="1.80" fill="#00006e" stroke="#00006e" stroke-width="0.7"/>
<circle cx="363.4" cy="76.6" r="1.80" fill="#00006e" stroke="#00006e" stroke-width="0.7"/>
<circle cx="375.9" cy="78.8" r="1.80" fill="#00006e" stroke="#00006e" stroke-width="0.7"/>
<circle cx="388.0" cy="80.3" r="1.80" fill="#00006e" stroke="#00006e" stroke-width="0.7"/>
<circle cx="400.3" cy="81.3" r="1.80" fill="#00006e" stroke="#00006e" stroke-width="0.7"/>
<circle cx="412.7" cy="81.9" r="1.80" fill="#00006e" stroke="#00006e" stroke-width="0.7"/>
<circle cx="425.1" cy="82.4" r="1.80" fill="#00006e" stroke="#00006e" stroke-width="0.7"/>
<circle cx="437.5" cy="82.7" r="1.80" fill="#00006e" stroke="#00006e" stroke-width="0.7"/>
<path d="M302.8,155.0 C304.1,157.1 305.4,159.2 307.0,161.0 C309.4,163.6 312.7,165.3 315.7,167.3 C319.4,169.8 323.1,172.2 327.1,174.2 C331.0,176.1 335.1,177.8 339.3,179.0 C343.3,180.2 347.4,181.0 351.5,181.6 C355.6,182.2 359.8,182.6 364.0,182.8 C368.0,183.0 372.0,183.0 376.0,183.0 C380.0,183.0 384.0,182.7 388.0,182.6 C392.2,182.5 396.3,182.4 400.5,182.3 C404.5,182.2 408.5,182.1 412.5,182.0 C416.7,181.9 420.8,181.9 425.0,181.8 C429.2,181.8 433.3,181.7 437.5,181.7" fill="none" stroke="#3d3db2" stroke-width="1.5" stroke-linejoin="round" mask="url(#k11)"/>
<circle cx="315.7" cy="167.3" r="1.90" fill="#fff" stroke="#3d3db2" stroke-width="0.6"/>
<circle cx="327.1" cy="174.2" r="1.90" fill="#fff" stroke="#3d3db2" stroke-width="0.6"/>
<circle cx="339.3" cy="179.0" r="1.90" fill="#fff" stroke="#3d3db2" stroke-width="0.6"/>
<circle cx="351.5" cy="181.6" r="1.90" fill="#fff" stroke="#3d3db2" stroke-width="0.6"/>
<circle cx="364.0" cy="182.8" r="1.90" fill="#fff" stroke="#3d3db2" stroke-width="0.6"/>
<circle cx="376.0" cy="183.0" r="1.90" fill="#fff" stroke="#3d3db2" stroke-width="0.6"/>
<circle cx="388.0" cy="182.6" r="1.90" fill="#fff" stroke="#3d3db2" stroke-width="0.6"/>
<circle cx="400.5" cy="182.3" r="1.90" fill="#fff" stroke="#3d3db2" stroke-width="0.6"/>
<circle cx="412.5" cy="182.0" r="1.90" fill="#fff" stroke="#3d3db2" stroke-width="0.6"/>
<circle cx="425.0" cy="181.8" r="1.90" fill="#fff" stroke="#3d3db2" stroke-width="0.6"/>
<circle cx="437.5" cy="181.7" r="1.90" fill="#fff" stroke="#3d3db2" stroke-width="0.6"/>
<path d="M286.7,72.0 C288.1,73.3 289.5,74.6 291.0,75.8 C293.0,77.3 295.2,78.7 297.4,79.9 C299.5,81.0 301.8,82.0 304.0,82.8 C306.4,83.7 308.9,84.3 311.4,85.0 C315.6,86.1 319.9,86.8 324.2,87.6 C328.2,88.3 332.3,89.0 336.3,89.6" fill="none" stroke="#2f9a3c" stroke-width="1.3" stroke-linejoin="round" mask="url(#k12)"/>
<path d="M286.7,69.8 L288.8,73.7 L284.6,73.7Z" fill="#0f6e22" stroke="#0f6e22" stroke-width="0.7"/>
<path d="M297.4,77.8 L299.5,81.6 L295.2,81.6Z" fill="#0f6e22" stroke="#0f6e22" stroke-width="0.7"/>
<path d="M311.4,82.8 L313.5,86.7 L309.2,86.7Z" fill="#0f6e22" stroke="#0f6e22" stroke-width="0.7"/>
<path d="M324.2,85.4 L326.3,89.3 L322.1,89.3Z" fill="#0f6e22" stroke="#0f6e22" stroke-width="0.7"/>
<path d="M336.3,87.4 L338.4,91.3 L334.2,91.3Z" fill="#0f6e22" stroke="#0f6e22" stroke-width="0.7"/>
<path d="M285.2,158.1 C287.1,161.7 288.9,165.3 291.6,168.2 C293.2,170.0 295.1,171.6 297.0,173.0 C298.8,174.3 300.7,175.5 302.7,176.5 C304.7,177.5 306.9,178.3 309.0,179.0 C311.6,179.8 314.2,180.4 316.9,180.9 C319.6,181.4 322.3,181.8 325.0,182.2 C327.9,182.6 330.8,182.8 333.7,183.1" fill="none" stroke="#2f9a3c" stroke-width="1.3" stroke-linejoin="round" mask="url(#k13)"/>
<path d="M285.2,155.9 L287.3,159.8 L283.1,159.8Z" fill="#fff" stroke="#2f9a3c" stroke-width="0.6"/>
<path d="M291.6,166.0 L293.8,169.9 L289.5,169.9Z" fill="#fff" stroke="#2f9a3c" stroke-width="0.6"/>
<path d="M302.7,174.3 L304.8,178.2 L300.6,178.2Z" fill="#fff" stroke="#2f9a3c" stroke-width="0.6"/>
<path d="M316.9,178.8 L319.0,182.6 L314.8,182.6Z" fill="#fff" stroke="#2f9a3c" stroke-width="0.6"/>
<path d="M333.7,180.9 L335.8,184.8 L331.6,184.8Z" fill="#fff" stroke="#2f9a3c" stroke-width="0.6"/>
<path d="M255.2,139.0 C255.6,132.0 255.9,125.0 256.6,118.0 C257.2,112.0 257.5,105.9 258.8,100.0 C259.6,96.5 260.8,93.0 261.8,89.5 C262.7,86.3 263.2,83.1 264.3,80.0 C265.4,77.1 266.6,74.1 268.4,71.6 C269.3,70.3 270.3,68.9 271.5,68.0 C272.5,67.2 273.8,66.8 275.0,66.3 C276.0,65.9 277.1,65.8 278.0,65.3 C278.7,64.9 279.4,64.4 280.0,63.8 C281.0,62.8 281.5,61.3 282.2,60.0 C283.3,57.9 284.1,55.7 285.3,53.7 C286.4,52.0 287.4,50.2 288.9,48.8 C289.9,47.8 291.0,46.9 292.3,46.3 C293.3,45.8 294.4,45.5 295.5,45.4 C297.7,45.2 300.0,46.3 302.1,47.1 C305.0,48.2 307.6,50.0 310.3,51.4 C313.5,53.1 316.6,54.9 319.9,56.4 C323.2,57.9 326.6,59.1 330.0,60.2 C336.2,62.2 342.5,63.6 348.9,64.9 C355.2,66.2 361.6,67.1 368.0,68.0 C374.7,69.0 381.3,70.0 388.0,70.7 C396.0,71.5 404.0,71.9 412.0,72.4 C420.8,72.9 429.7,73.2 438.5,73.5" fill="none" stroke="#edb430" stroke-width="1.25" stroke-linejoin="round" mask="url(#k14)"/>
<path d="M279.7,62.3 L280.2,63.6 L281.5,63.6 L280.5,64.4 L280.8,65.7 L279.7,65.0 L278.6,65.7 L278.9,64.4 L277.9,63.6 L279.2,63.6Z" fill="#e29c18" stroke="#e29c18" stroke-width="0.5"/>
<path d="M295.5,43.5 L296.0,44.8 L297.3,44.8 L296.3,45.6 L296.6,46.9 L295.5,46.2 L294.4,46.9 L294.7,45.6 L293.7,44.8 L295.0,44.8Z" fill="#e29c18" stroke="#e29c18" stroke-width="0.5"/>
<path d="M302.1,45.2 L302.6,46.5 L303.9,46.5 L302.9,47.3 L303.2,48.6 L302.1,47.9 L301.0,48.6 L301.3,47.3 L300.3,46.5 L301.6,46.5Z" fill="#e29c18" stroke="#e29c18" stroke-width="0.5"/>
<path d="M310.3,49.5 L310.8,50.8 L312.1,50.8 L311.1,51.6 L311.4,52.9 L310.3,52.2 L309.2,52.9 L309.5,51.6 L308.5,50.8 L309.8,50.8Z" fill="#e29c18" stroke="#e29c18" stroke-width="0.5"/>
<path d="M319.9,54.5 L320.4,55.8 L321.7,55.8 L320.7,56.6 L321.0,57.9 L319.9,57.2 L318.8,57.9 L319.1,56.6 L318.1,55.8 L319.4,55.8Z" fill="#e29c18" stroke="#e29c18" stroke-width="0.5"/>
<path d="M330.0,58.3 L330.5,59.6 L331.8,59.6 L330.8,60.4 L331.1,61.7 L330.0,61.0 L328.9,61.7 L329.2,60.4 L328.2,59.6 L329.5,59.6Z" fill="#e29c18" stroke="#e29c18" stroke-width="0.5"/>
<path d="M348.9,63.0 L349.4,64.3 L350.7,64.3 L349.7,65.1 L350.0,66.4 L348.9,65.7 L347.8,66.4 L348.1,65.1 L347.1,64.3 L348.4,64.3Z" fill="#e29c18" stroke="#e29c18" stroke-width="0.5"/>
<path d="M388.0,68.8 L388.5,70.1 L389.8,70.1 L388.8,70.9 L389.1,72.2 L388.0,71.5 L386.9,72.2 L387.2,70.9 L386.2,70.1 L387.5,70.1Z" fill="#e29c18" stroke="#e29c18" stroke-width="0.5"/>
<path d="M254.5,107.0 C254.8,104.8 255.1,102.5 256.0,100.5 C256.6,99.0 257.4,96.1 258.5,96.2 C259.2,96.2 260.3,97.3 261.0,98.0 C262.7,99.6 263.2,102.2 264.2,104.4 C265.3,106.9 266.1,109.5 267.0,112.0 C267.9,114.3 268.6,116.7 269.6,119.0 C270.3,120.5 270.9,122.3 272.0,123.5 C272.8,124.3 273.8,125.4 274.9,125.6 C275.8,125.8 277.0,125.1 278.0,125.2 C278.9,125.3 280.0,125.5 280.8,126.0 C281.9,126.6 282.7,127.9 283.5,129.0 C284.3,130.0 284.9,131.1 285.6,132.2 C286.4,133.5 287.0,134.9 287.8,136.3 C289.1,138.7 290.5,141.1 292.0,143.5 C293.4,145.8 294.9,148.0 296.4,150.2 C299.0,153.9 301.5,157.9 304.9,160.9 C307.2,162.9 309.7,164.8 312.4,166.0 C314.6,167.0 317.1,167.6 319.5,168.1 C323.1,168.9 326.8,169.1 330.4,169.2 C336.3,169.4 342.3,168.7 348.2,168.1 C354.8,167.4 361.4,166.3 368.0,165.3 C374.7,164.2 381.3,163.0 388.0,161.8 C396.0,160.4 404.0,158.8 412.0,157.3 C420.8,155.6 429.7,153.8 438.5,152.0" fill="none" stroke="#edb430" stroke-width="1.25" stroke-linejoin="round" mask="url(#k15)"/>
<path d="M319.5,166.2 L320.0,167.5 L321.3,167.5 L320.3,168.3 L320.6,169.6 L319.5,168.9 L318.4,169.6 L318.7,168.3 L317.7,167.5 L319.0,167.5Z" fill="#fff" stroke="#edb430" stroke-width="0.5"/>
<path d="M330.4,167.3 L330.9,168.6 L332.2,168.6 L331.2,169.4 L331.5,170.7 L330.4,170.0 L329.3,170.7 L329.6,169.4 L328.6,168.6 L329.9,168.6Z" fill="#fff" stroke="#edb430" stroke-width="0.5"/>
<path d="M348.2,166.2 L348.7,167.5 L350.0,167.5 L349.0,168.3 L349.3,169.6 L348.2,168.9 L347.1,169.6 L347.4,168.3 L346.4,167.5 L347.7,167.5Z" fill="#fff" stroke="#edb430" stroke-width="0.5"/>
<path d="M388.0,159.9 L388.5,161.2 L389.8,161.2 L388.8,162.0 L389.1,163.3 L388.0,162.6 L386.9,163.3 L387.2,162.0 L386.2,161.2 L387.5,161.2Z" fill="#fff" stroke="#edb430" stroke-width="0.5"/>
<path d="M255.1,138.0 C255.3,136.8 255.4,135.6 255.6,134.4 C256.5,128.3 257.5,122.1 258.9,116.1 C260.2,110.2 261.8,104.3 263.6,98.5 C265.1,93.7 266.8,88.9 268.5,84.2 C270.4,79.0 272.2,73.8 274.5,68.8 C275.9,65.8 277.2,62.7 279.0,60.0 C280.2,58.2 281.4,56.3 282.9,54.9 C284.4,53.5 286.1,52.2 288.0,51.5 C289.4,51.0 291.0,50.7 292.5,50.6 C295.0,50.4 297.6,50.8 300.0,51.4 C302.8,52.1 305.4,53.7 308.0,55.0 C311.2,56.6 314.2,58.4 317.4,60.0 C320.2,61.5 323.1,63.0 326.0,64.3 C328.9,65.7 331.9,67.0 334.9,68.1 C340.5,70.0 346.5,70.8 352.3,71.8 C358.1,72.8 364.0,73.5 369.9,74.1 C375.6,74.7 381.3,75.2 387.0,75.6 C392.9,76.0 398.7,76.4 404.6,76.7 C410.5,77.0 416.5,77.2 422.4,77.5 C427.8,77.7 433.1,78.0 438.5,78.2" fill="none" stroke="#982e38" stroke-width="1.3" stroke-linejoin="round" mask="url(#k16)"/>
<circle cx="255.6" cy="134.4" r="1.80" fill="#700814" stroke="#700814" stroke-width="0.7"/>
<circle cx="258.9" cy="116.1" r="1.80" fill="#700814" stroke="#700814" stroke-width="0.7"/>
<circle cx="263.6" cy="98.5" r="1.80" fill="#700814" stroke="#700814" stroke-width="0.7"/>
<circle cx="268.5" cy="84.2" r="1.80" fill="#700814" stroke="#700814" stroke-width="0.7"/>
<circle cx="274.5" cy="68.8" r="1.80" fill="#700814" stroke="#700814" stroke-width="0.7"/>
<circle cx="282.9" cy="54.9" r="1.80" fill="#700814" stroke="#700814" stroke-width="0.7"/>
<circle cx="300.0" cy="51.4" r="1.80" fill="#700814" stroke="#700814" stroke-width="0.7"/>
<circle cx="317.4" cy="60.0" r="1.80" fill="#700814" stroke="#700814" stroke-width="0.7"/>
<circle cx="334.9" cy="68.1" r="1.80" fill="#700814" stroke="#700814" stroke-width="0.7"/>
<circle cx="352.3" cy="71.8" r="1.80" fill="#700814" stroke="#700814" stroke-width="0.7"/>
<circle cx="369.9" cy="74.1" r="1.80" fill="#700814" stroke="#700814" stroke-width="0.7"/>
<circle cx="387.0" cy="75.6" r="1.80" fill="#700814" stroke="#700814" stroke-width="0.7"/>
<circle cx="404.6" cy="76.7" r="1.80" fill="#700814" stroke="#700814" stroke-width="0.7"/>
<circle cx="422.4" cy="77.5" r="1.80" fill="#700814" stroke="#700814" stroke-width="0.7"/>
<path d="M255.2,65.0 C255.6,63.4 256.1,61.9 257.0,60.6 C257.6,59.7 258.4,58.5 259.3,58.3 C260.1,58.1 261.3,58.8 262.1,59.3 C263.4,60.1 264.1,61.9 265.0,63.3 C266.8,66.0 268.0,69.1 269.5,72.0 C271.9,76.8 274.6,81.6 276.6,86.6 C278.5,91.5 279.7,96.6 281.4,101.6 C283.1,106.6 285.0,111.6 286.7,116.6 C288.4,121.8 289.7,127.1 291.6,132.2 C293.5,137.1 295.6,142.0 298.1,146.6 C300.6,151.2 303.3,155.8 306.5,160.0 C308.5,162.6 310.5,165.4 313.0,167.5 C315.3,169.5 318.0,171.4 320.8,172.6 C323.4,173.7 326.2,174.4 329.0,174.8 C332.0,175.3 335.2,175.0 338.3,175.0 C344.2,174.9 350.1,174.2 356.0,173.7 C361.8,173.2 367.7,172.7 373.5,172.0 C379.2,171.3 384.8,170.3 390.5,169.6 C396.5,168.8 402.5,168.2 408.5,167.4 C414.3,166.6 420.2,165.8 426.0,165.0 C430.2,164.4 434.3,163.8 438.5,163.2" fill="none" stroke="#982e38" stroke-width="1.3" stroke-linejoin="round" mask="url(#k17)"/>
<circle cx="255.4" cy="64.8" r="1.90" fill="#fff" stroke="#982e38" stroke-width="0.6"/>
<circle cx="262.1" cy="59.3" r="1.90" fill="#fff" stroke="#982e38" stroke-width="0.6"/>
<circle cx="269.5" cy="72.0" r="1.90" fill="#fff" stroke="#982e38" stroke-width="0.6"/>
<circle cx="276.6" cy="86.6" r="1.90" fill="#fff" stroke="#982e38" stroke-width="0.6"/>
<circle cx="281.4" cy="101.6" r="1.90" fill="#fff" stroke="#982e38" stroke-width="0.6"/>
<circle cx="286.7" cy="116.6" r="1.90" fill="#fff" stroke="#982e38" stroke-width="0.6"/>
<circle cx="291.6" cy="132.2" r="1.90" fill="#fff" stroke="#982e38" stroke-width="0.6"/>
<circle cx="298.1" cy="146.6" r="1.90" fill="#fff" stroke="#982e38" stroke-width="0.6"/>
<circle cx="306.5" cy="160.0" r="1.90" fill="#fff" stroke="#982e38" stroke-width="0.6"/>
<circle cx="320.8" cy="172.6" r="1.90" fill="#fff" stroke="#982e38" stroke-width="0.6"/>
<circle cx="338.3" cy="175.0" r="1.90" fill="#fff" stroke="#982e38" stroke-width="0.6"/>
<circle cx="356.0" cy="173.7" r="1.90" fill="#fff" stroke="#982e38" stroke-width="0.6"/>
<circle cx="373.5" cy="172.0" r="1.90" fill="#fff" stroke="#982e38" stroke-width="0.6"/>
<circle cx="390.5" cy="169.6" r="1.90" fill="#fff" stroke="#982e38" stroke-width="0.6"/>
<circle cx="408.5" cy="167.4" r="1.90" fill="#fff" stroke="#982e38" stroke-width="0.6"/>
<circle cx="426.0" cy="165.0" r="1.90" fill="#fff" stroke="#982e38" stroke-width="0.6"/>
</g>
<path d="M101.2,115.2 H120" stroke="#7a3cf0" stroke-width="1.25"/>
<path d="M110.6,112.9 L112.9,115.2 L110.6,117.5 L108.3,115.2Z" fill="#5210e0" stroke="#5210e0" stroke-width="0.4"/>
<text x="124.6" y="118.2" class="lg">Mendoza-Galvan</text>
<path d="M101.2,125.7 H107.7 M113.5,125.7 H126.9 M132.7,125.7 H139.8" stroke="#ff3897" stroke-width="1.25"/>
<rect x="108.9" y="124.0" width="3.3" height="3.3" fill="#f01878" stroke="#f01878" stroke-width="0.7"/>
<rect x="128.1" y="124.0" width="3.3" height="3.3" fill="#fff" stroke="#ff3897" stroke-width="0.6"/>
<text x="143.6" y="128.7" class="lg">Lee</text>
<path d="M101.2,136.0 H107.7 M113.5,136.0 H126.9 M132.7,136.0 H139.8" stroke="#3d3db2" stroke-width="1.5"/>
<circle cx="110.6" cy="136.0" r="2.07" fill="#00006e" stroke="#00006e" stroke-width="0.7"/>
<circle cx="129.8" cy="136.0" r="2.18" fill="#fff" stroke="#3d3db2" stroke-width="0.6"/>
<text x="143.6" y="139.0" class="lg">Michel</text>
<path d="M101.2,146.2 H107.7 M113.5,146.2 H126.9 M132.7,146.2 H139.8" stroke="#2f9a3c" stroke-width="1.3"/>
<path d="M110.6,143.7 L113.1,148.2 L108.1,148.2Z" fill="#0f6e22" stroke="#0f6e22" stroke-width="0.7"/>
<path d="M129.8,143.7 L132.3,148.2 L127.3,148.2Z" fill="#fff" stroke="#2f9a3c" stroke-width="0.6"/>
<text x="143.6" y="149.2" class="lg">Sarangan</text>
<path d="M101.2,156.4 H107.7 M113.5,156.4 H126.9 M132.7,156.4 H139.8" stroke="#edb430" stroke-width="1.25"/>
<path d="M110.6,154.2 L111.1,155.7 L112.7,155.7 L111.5,156.7 L111.9,158.2 L110.6,157.3 L109.3,158.2 L109.7,156.7 L108.5,155.7 L110.1,155.7Z" fill="#e29c18" stroke="#e29c18" stroke-width="0.5"/>
<path d="M129.8,154.2 L130.3,155.7 L131.9,155.7 L130.7,156.7 L131.1,158.2 L129.8,157.3 L128.5,158.2 L128.9,156.7 L127.7,155.7 L129.3,155.7Z" fill="#fff" stroke="#edb430" stroke-width="0.5"/>
<text x="143.6" y="159.4" class="lg">Zhang</text>
<path d="M101.2,166.6 H107.7 M113.5,166.6 H126.9 M132.7,166.6 H139.8" stroke="#982e38" stroke-width="1.3"/>
<circle cx="110.6" cy="166.6" r="2.07" fill="#700814" stroke="#700814" stroke-width="0.7"/>
<circle cx="129.8" cy="166.6" r="2.18" fill="#fff" stroke="#982e38" stroke-width="0.6"/>
<text x="143.6" y="169.6" class="lg">Pogrebnyakov</text>
<text x="136.7" y="52.6" class="ti">(a) Amorphous</text>
<text x="343.3" y="52.6" class="ti">(b) Cubic crystalline</text>
<text x="118.2" y="212.2" text-anchor="middle" class="xl">Wavelength (nm)</text>
<text x="347.2" y="212.2" text-anchor="middle" class="xl">Wavelength (nm)</text>
<text transform="translate(8.0,111) rotate(-90)" text-anchor="middle" class="yl">n &amp; k</text>
<text transform="translate(237.0,111) rotate(-90)" text-anchor="middle" class="yl">n &amp; k</text>
</svg>
</body></html>
